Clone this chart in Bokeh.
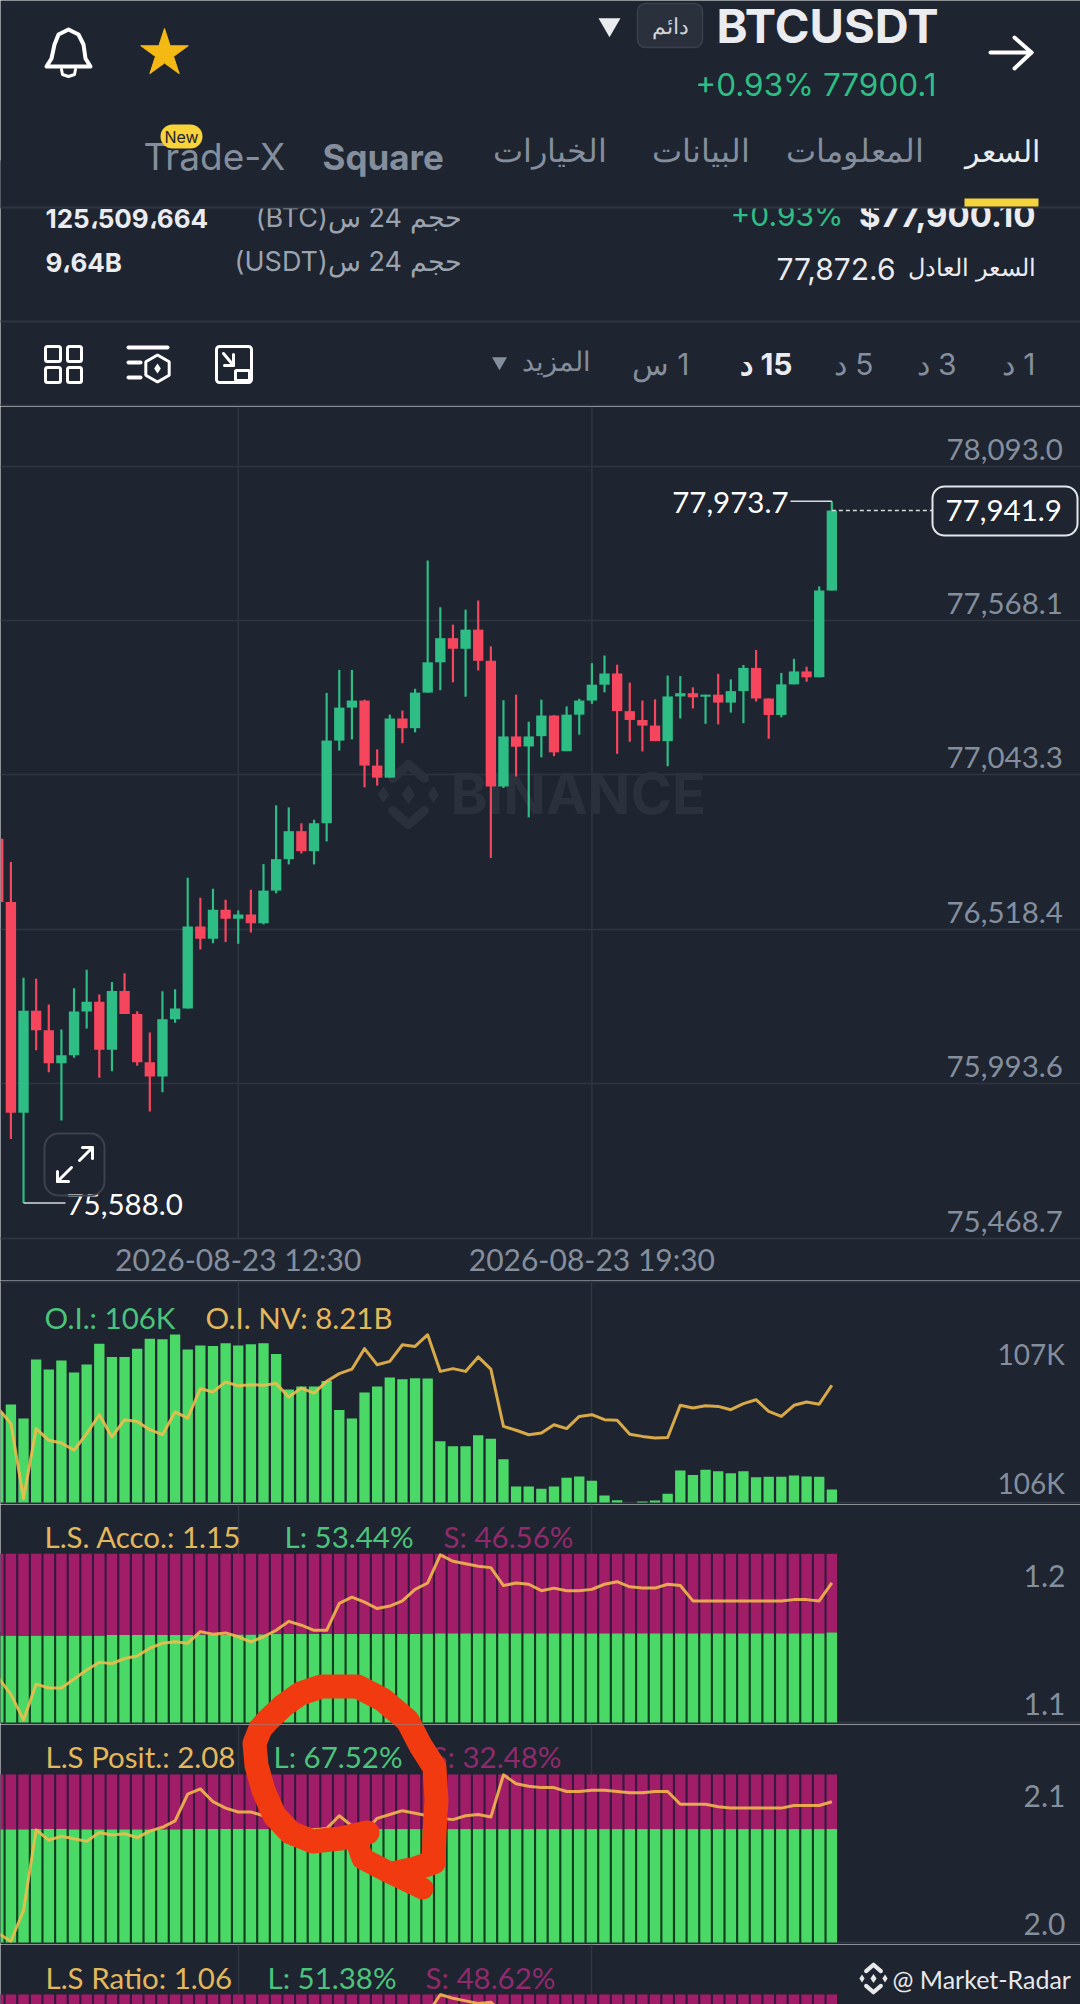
from bokeh.plotting import figure
from bokeh.layouts import column
from bokeh.models import Range1d, LinearAxis, FixedTicker, Grid, NumeralTickFormatter
from bokeh.embed import file_html
from bokeh.resources import INLINE
from bokeh.core.properties import value

# ------------------------------------------------------------------ data
candle_x = list(range(0, 67))
opens = [76826,76611,75895,76242,76175,76063,76090,76239,76272,76109,76309,76231,76067,76018,76213,76249,76528,76486,76585,76554,76569,76539,76650,76757,76852,76784,76879,77160,77272,77296,77075,77034,77235,77202,77323,77426,77508,77472,77537,77431,77004,77174,77140,77175,77245,77124,77248,77296,77350,77388,77260,77230,77211,77158,77310,77321,77309,77316,77289,77328,77407,77303,77247,77351,77395,77375,77670]
highs = [76826,76747,76354,76350,76263,76178,76318,76381,76297,76339,76369,76240,76168,76308,76315,76694,76626,76656,76619,76582,76653,76740,76940,76933,76879,76891,77322,77400,77400,77299,77130,77248,77262,77336,77772,77613,77554,77605,77636,77480,77297,77316,77224,77299,77247,77276,77302,77423,77449,77418,77357,77296,77300,77381,77379,77341,77316,77387,77368,77417,77468,77303,77390,77438,77411,77684,77973.7]
lows = [76611,75806,75588,76107,76033,75869,76082,76181,76014,76036,76231,76055,75899,75965,76201,76249,76450,76471,76475,76469,76508,76535,76641,76739,76776,76739,76817,77126,77164,77001,77007,77034,77151,77188,77323,77331,77358,77309,77398,76761,76999,77038,76899,77103,77107,77124,77180,77285,77324,77115,77156,77123,77158,77073,77235,77269,77217,77215,77255,77219,77293,77166,77239,77351,77360,77375,77670]
closes = [76611,75895,76242,76175,76063,76090,76239,76272,76109,76309,76231,76067,76018,76213,76249,76528,76486,76585,76554,76569,76539,76650,76757,76852,76784,76879,77160,77272,77296,77075,77034,77235,77202,77323,77426,77508,77472,77537,77431,77004,77174,77139,77174,77245,77120,77248,77296,77350,77388,77260,77230,77211,77158,77310,77321,77307,77316,77289,77328,77407,77303,77247,77351,77395,77375,77670,77941.9]
price_ticks = [78093.0, 77568.1, 77043.3, 76518.4, 75993.6, 75468.7]
time_ticks = [19, 47]
time_labels = ["2026-08-23 12:30", "2026-08-23 19:30"]

oi = [106700,106760,106651,107109,107031,107101,107008,107070,107230,107127,107127,107191,107269,107266,107302,107186,107217,107214,107235,107217,107227,107235,107152,106876,106899,106899,106941,106718,106651,106853,106899,106969,106956,106964,106961,106475,106437,106437,106522,106494,106336,106124,106124,106106,106124,106191,106202,106168,106054,106018,106000,106008,106016,106067,106248,106214,106253,106243,106227,106243,106196,106199,106199,106209,106202,106199,106101]
oi_nv = [8.169,8.142,8.007,8.133,8.112,8.107,8.094,8.124,8.158,8.118,8.149,8.146,8.131,8.122,8.163,8.152,8.205,8.199,8.217,8.210,8.212,8.211,8.214,8.190,8.206,8.197,8.218,8.232,8.240,8.277,8.248,8.254,8.284,8.281,8.302,8.236,8.241,8.236,8.262,8.240,8.137,8.130,8.122,8.125,8.140,8.133,8.155,8.158,8.149,8.148,8.123,8.119,8.116,8.117,8.175,8.170,8.174,8.173,8.167,8.178,8.185,8.164,8.155,8.175,8.181,8.177,8.211]
oi_ticks = [106000, 107000]

acct_ratio = [1.135,1.122,1.102,1.130,1.127,1.127,1.134,1.141,1.147,1.146,1.150,1.152,1.158,1.162,1.163,1.162,1.171,1.169,1.170,1.167,1.163,1.167,1.172,1.179,1.176,1.172,1.172,1.193,1.198,1.194,1.189,1.191,1.195,1.204,1.209,1.231,1.226,1.224,1.222,1.221,1.207,1.209,1.208,1.203,1.205,1.203,1.203,1.204,1.208,1.210,1.206,1.205,1.205,1.208,1.207,1.195,1.195,1.195,1.195,1.195,1.195,1.195,1.195,1.196,1.196,1.195,1.209]
acct_long = [51.6,51.6,51.4,51.6,51.6,51.6,51.6,51.6,51.6,51.8,51.8,51.8,51.8,51.8,51.8,51.9,52.1,52.1,52.1,52.1,52.1,52.3,52.4,52.6,52.6,52.6,52.6,52.6,52.6,52.6,52.6,52.6,52.6,52.6,52.7,52.9,52.9,52.9,52.9,52.9,52.9,52.9,52.9,52.9,52.9,52.9,52.9,52.9,52.9,52.9,52.9,52.9,52.9,52.9,52.9,52.9,52.9,52.9,52.9,52.9,52.9,52.9,52.9,52.9,52.9,52.9,53.44]
pos_ratio = [2.007,2.001,2.025,2.088,2.080,2.083,2.081,2.079,2.086,2.084,2.085,2.082,2.087,2.090,2.095,2.116,2.120,2.110,2.105,2.102,2.102,2.099,2.097,2.093,2.089,2.088,2.089,2.099,2.091,2.086,2.097,2.100,2.103,2.101,2.099,2.097,2.096,2.099,2.100,2.098,2.131,2.124,2.122,2.121,2.121,2.118,2.118,2.119,2.119,2.118,2.117,2.117,2.118,2.118,2.108,2.108,2.108,2.106,2.105,2.105,2.105,2.105,2.105,2.107,2.107,2.107,2.110]
pos_long = [67.4,67.4,67.4,67.5,67.5,67.5,67.4,67.4,67.4,67.4,67.4,67.4,67.4,67.4,67.4,67.5,67.5,67.5,67.5,67.5,67.5,67.5,67.5,67.5,67.5,67.5,67.5,67.5,67.5,67.5,67.5,67.5,67.5,67.5,67.5,67.5,67.5,67.5,67.5,67.5,67.5,67.5,67.5,67.5,67.5,67.5,67.5,67.5,67.5,67.5,67.5,67.5,67.5,67.5,67.5,67.5,67.5,67.5,67.5,67.5,67.5,67.5,67.5,67.5,67.5,67.5,67.52]
ratio_long = [51.38] * 67
ratio_x_peak = [34, 35, 36, 37, 38, 39, 40]
ratio_peak = [1.185, 1.200, 1.197, 1.195, 1.193, 1.194, 1.185]

# hand-drawn annotation, in picture pixels
scribble_x = [367,340,312,290,274,263,256,254,260,267,283,300,321,357,382,407,420,434,436,434,433,415,396]
scribble_y = [1832,1838,1841,1832,1815,1790,1765,1743,1728,1720,1705,1693,1686,1686,1699,1720,1745,1767,1800,1833,1862,1868,1872]
tail_x = [355,362,385,410,422]
tail_y = [1838,1858,1870,1882,1888]

# ------------------------------------------------------------------ style
BG = "#1E2430"
GREEN = "#2EBD85"
RED = "#F6465D"
BAR = "#4AD966"
PURPLE = "#A21D68"
GREY = "#848E9C"
GRID = "#2F3641"
RULE = "#2E3541"
GOLD = "#E3B75B"
LGREEN = "#4CC37C"
LPURPLE = "#912A6C"
LINE = "#F3BC4C"
NUM = "Lato"
HEAD = "Inter"
W = 1080
PX = dict(x_range_name="px", y_range_name="px")

def ix(px):
    return (px - 10.4) / 12.63 + 1

def rng(ytop, ybot, yref, vref, ppu, shift=0):
    return Range1d((vref + (yref - (ybot + shift)) / ppu), (vref + (yref - (ytop + shift)) / ppu))

def panel(ytop, ybot, yr=None):
    yr = yr or Range1d(ybot, ytop)
    p = figure(width=W, height=ybot - ytop, x_range=Range1d(ix(0), ix(W)), y_range=yr,
               x_axis_type=None, y_axis_type=None, toolbar_location=None, output_backend="svg",
               background_fill_color=BG, border_fill_color=BG, outline_line_color=None, min_border=0)
    p.extra_x_ranges = {"px": Range1d(0, W)}
    p.extra_y_ranges = {"px": Range1d(ybot, ytop)}
    return p

def t(p, x, y, s, size, color, align="left", font=HEAD, style="normal"):
    p.text(x=[x], y=[y], text=[s], text_font=value(font), text_font_size=f"{size}px", text_color=color,
           text_align=align, text_baseline="middle", text_font_style=style, **PX)

def seg(p, xs, ys, color="#FFFFFF", w=3, **kw):
    p.line(xs, ys, line_color=color, line_width=w, line_cap="round", line_join="round", **PX, **kw)

def box(p, l, r, top, bottom, fill=None, line=None, w=2, radius=0):
    p.quad(left=[l], right=[r], top=[top], bottom=[bottom], fill_color=fill, line_color=line, line_width=w,
           border_radius=radius, **PX)

def logo(p, cx, cy, s, color):
    p.scatter(x=[cx, cx - 25 * s, cx + 25 * s], y=[cy, cy, cy], marker="diamond", size=[20 * s, 17 * s, 17 * s],
              fill_color=color, line_color=None, **PX)
    seg(p, [cx - 16 * s, cx, cx + 16 * s], [cy - 16 * s, cy - 30 * s, cy - 16 * s], color, 9 * s)
    seg(p, [cx - 16 * s, cx, cx + 16 * s], [cy + 16 * s, cy + 30 * s, cy + 16 * s], color, 9 * s)

def value_axis(p, name, yr, left_px, ticks, size=29.5, overrides=None, fmt="0,0.0"):
    p.extra_y_ranges[name] = yr
    ax = LinearAxis(y_range_name=name, fixed_location=ix(left_px), ticker=FixedTicker(ticks=ticks),
                    major_tick_line_color=None, minor_tick_line_color=None, axis_line_color=None,
                    major_label_standoff=0, major_label_text_color=GREY,
                    major_label_text_font=NUM, major_label_text_font_size=f"{size}px")
    if overrides:
        ax.major_label_overrides = overrides
    else:
        ax.formatter = NumeralTickFormatter(format=fmt)
    p.add_layout(ax, "right")

def rtl(s):
    return "\u202b" + s + "\u202c"

# ------------------------------------------------------------------ header
h = panel(0, 406)
# partially hidden row below the tabs
t(h, 1035, 214, "$77,900.10", 33, "#EAECEF", "right", style="bold")
t(h, 843, 214, "+0.93%", 30, GREEN, "right")
t(h, 45, 218, "125،509،664", 26, "#EAECEF", style="bold")
t(h, 461, 217, rtl("حجم 24 س(BTC)"), 27, "#9BA3AF", "right")
box(h, -10, 1090, 207, 160, BG, None)
seg(h, [0, 1080], [207, 207], RULE, 2)
box(h, 964, 1038, 206, 198, "#F5D33C", None)
# title bar
seg(h, [46, 51, 54, 58, 68, 78, 83, 85, 90, 46], [66, 58, 44, 34, 29, 34, 44, 58, 66, 66], "#FFFFFF", 4)
seg(h, [61, 62, 68, 74, 75], [69, 74, 76, 74, 69], "#FFFFFF", 3)
h.scatter(x=[164], y=[53], marker="star", size=50, fill_color="#F5B914", line_color="#F5B914", **PX)
h.scatter(x=[609], y=[24], marker="inverted_triangle", size=22, fill_color="#EAECEF", line_color=None, **PX)
box(h, 637, 702, 47, 3, "#2A313D", "#3A414D", 1.5, 8)
t(h, 670, 25, "دائم", 22, "#D0D4DA", "center")
t(h, 938, 25, "BTCUSDT", 47, "#EAECEF", "right", style="bold")
seg(h, [990, 1031], [52, 52], "#FFFFFF", 4)
seg(h, [1014, 1031, 1014], [37, 52, 68], "#FFFFFF", 4)
t(h, 936, 84, "+0.93% 77900.1", 31.5, GREEN, "right")
# tabs
t(h, 1039, 150, "السعر", 30, "#EAECEF", "right")
t(h, 923, 150, "المعلومات", 32, GREY, "right")
t(h, 749, 150, "البيانات", 32, GREY, "right")
t(h, 606, 150, "الخيارات", 32, GREY, "right")
t(h, 322, 156, "Square", 35, GREY, style="bold")
t(h, 143, 156, "Trade-X", 37, GREY)
box(h, 160, 202, 148, 124, "#F8D33A", None, radius=12)
t(h, 181, 136, "New", 16, "#1E2430", "center")
# 24h stats
t(h, 1035, 267, "السعر العادل", 24, "#EAECEF", "right")
t(h, 895, 268, "77,872.6", 30, "#EAECEF", "right")
t(h, 45, 262, "9،64B", 26, "#EAECEF", style="bold")
t(h, 461, 261, rtl("حجم 24 س(USDT)"), 27, "#9BA3AF", "right")
seg(h, [0, 1080], [321, 321], RULE, 2)
seg(h, [0, 1080], [405, 405], RULE, 2)
# interval row
t(h, 1035, 363, rtl("1 د"), 30, GREY, "right")
t(h, 956, 363, rtl("3 د"), 30, GREY, "right")
t(h, 873, 363, rtl("5 د"), 30, GREY, "right")
t(h, 792, 363, rtl("15 د"), 30, "#EAECEF", "right", style="bold")
t(h, 689, 363, rtl("1 س"), 30, GREY, "right")
t(h, 590, 361, "المزيد", 27, GREY, "right")
h.scatter(x=[499], y=[361], marker="inverted_triangle", size=15, fill_color=GREY, line_color=None, **PX)
# tool icons
for l, r in [(45, 60), (67, 81)]:
    for a, b in [(346, 361), (367, 382)]:
        box(h, l, r, b, a, None, "#FFFFFF", 3, 2)
seg(h, [128, 167], [347, 347], "#FFFFFF", 4)
seg(h, [128, 140], [362, 362], "#FFFFFF", 4)
seg(h, [128, 140], [377, 377], "#FFFFFF", 4)
h.scatter(x=[157], y=[368], marker="hex", angle=1.5708, size=27, fill_color=None, line_color="#FFFFFF", line_width=3, **PX)
h.scatter(x=[157], y=[368], marker="diamond", size=10, fill_color="#FFFFFF", line_color=None, **PX)
box(h, 216, 251, 382, 346, None, "#FFFFFF", 3, 3)
box(h, 235, 249, 380, 370, BG, "#FFFFFF", 3, 1)
seg(h, [223, 233], [353, 365], "#FFFFFF", 3)
seg(h, [233, 233, 224], [354, 365, 365], "#FFFFFF", 3)

# ------------------------------------------------------------------ price chart
PPU = 154.4 / 524.8
pr = panel(406, 1280, rng(406, 1280, 620, 77568.1, PPU))
pr.add_layout(Grid(dimension=1, ticker=FixedTicker(ticks=price_ticks), grid_line_color=GRID, grid_line_width=1.5))
pr.segment(x0=time_ticks, x1=time_ticks, y0=[price_ticks[-1]] * 2, y1=[78295] * 2, line_color=GRID, line_width=1.5)
# watermark
t(pr, 450, 793, "BINANCE", 56, "#2A313D", style="bold")
logo(pr, 408, 794, 1.0, "#2A313D")
# candles
up = [i for i in range(67) if closes[i] >= opens[i]]
dn = [i for i in range(67) if closes[i] < opens[i]]
for idx, col in ((up, GREEN), (dn, RED)):
    xs = [candle_x[i] for i in idx]
    pr.segment(x0=xs, x1=xs, y0=[lows[i] for i in idx], y1=[highs[i] for i in idx], line_color=col, line_width=2.2)
    pr.vbar(x=xs, width=0.82, top=[max(opens[i], closes[i]) for i in idx], bottom=[min(opens[i], closes[i]) for i in idx],
            fill_color=col, line_color=None)
ta = LinearAxis(fixed_location=price_ticks[-1], ticker=FixedTicker(ticks=time_ticks),
                major_label_overrides=dict(zip(time_ticks, time_labels)), major_tick_line_color=None,
                minor_tick_line_color=None, axis_line_color=GRID, axis_line_width=1.5, major_label_standoff=-3,
                major_label_text_color=GREY, major_label_text_font=NUM, major_label_text_font_size="30px")
pr.add_layout(ta, "below")
value_axis(pr, "lab", rng(406, 1280, 620, 77568.1, PPU, 17), 940, price_ticks)
# extreme and last-price markers
pr.segment(x0=[candle_x[-1]], x1=[ix(790)], y0=[highs[-1]], y1=[highs[-1]], line_color="#D8DBDF", line_width=1.5)
pr.segment(x0=[candle_x[2]], x1=[ix(65)], y0=[lows[2]], y1=[lows[2]], line_color="#D8DBDF", line_width=1.5)
pr.segment(x0=[candle_x[-1]], x1=[ix(932)], y0=[closes[-1]], y1=[closes[-1]], line_color="#D8DBDF", line_width=1.5, line_dash="4 3")
t(pr, 788, 502, "77,973.7", 29.5, "#FFFFFF", "right", NUM)
t(pr, 66, 1204, "75,588.0", 29.5, "#FFFFFF", "left", NUM)
box(pr, 932, 1077, 535, 486, BG, "#E4E6E9", 2, 12)
t(pr, 945, 510, "77,941.9", 29.5, "#FFFFFF", "left", NUM)
# expand button
box(pr, 44, 104, 1195, 1133, None, "#3C434F", 2, 14)
seg(pr, [79, 92], [1160, 1147])
seg(pr, [82, 92, 92], [1147, 1147, 1158])
seg(pr, [57, 71], [1181, 1167])
seg(pr, [57, 57, 68], [1171, 1181, 1181])

# ------------------------------------------------------------------ open interest
oi_p = panel(1280, 1504, rng(1280, 1504, 1502, 106000, 0.129))
oi_p.add_layout(Grid(dimension=0, ticker=FixedTicker(ticks=time_ticks), grid_line_color=GRID, grid_line_width=1.5))
oi_p.add_layout(Grid(dimension=1, ticker=FixedTicker(ticks=[106000]), grid_line_color=GRID, grid_line_width=2))
seg(oi_p, [0, 1080], [1281, 1281], RULE, 2)
oi_p.vbar(x=candle_x, width=0.82, top=oi, bottom=106000, fill_color=BAR, line_color=None)
oi_p.extra_y_ranges["nv"] = rng(1280, 1504, 1502, 8.0, 1 / 0.0018)
oi_p.line(candle_x, oi_nv, y_range_name="nv", line_color=LINE, line_alpha=0.88, line_width=3, line_join="round")
value_axis(oi_p, "lab", rng(1280, 1504, 1502, 106000, 0.129, 20), 991, oi_ticks, 28, overrides={106000: "106K", 107000: "107K"})
t(oi_p, 44, 1317, "O.I.: 106K", 29.5, LGREEN, font=NUM)
t(oi_p, 205, 1317, "O.I. NV: 8.21B", 29.5, GOLD, font=NUM)

# ------------------------------------------------------------------ long / short panels
def ls_panel(ytop, ybot, zero_y, top_y):
    ppu = (zero_y - top_y) / 100
    return panel(ytop, ybot, rng(ytop, ybot, zero_y, 0, ppu))

def ls_bars(p, longs):
    p.add_layout(Grid(dimension=0, ticker=FixedTicker(ticks=time_ticks), grid_line_color=GRID, grid_line_width=1.5))
    p.quad(left=[-1], right=[66.41], bottom=[0], top=[max(longs)], fill_color="#0D3F1E", line_color=None)
    p.quad(left=[-1], right=[66.41], bottom=[min(longs)], top=[100], fill_color="#37193F", line_color=None)
    p.vbar(x=candle_x, width=0.83, bottom=0, top=longs, fill_color=BAR, line_color=None)
    p.vbar(x=candle_x, width=0.83, bottom=longs, top=100, fill_color=PURPLE, line_color=None)

ac = ls_panel(1504, 1724, 1722, 1553.3)
ls_bars(ac, acct_long)
ac.add_layout(Grid(dimension=1, ticker=FixedTicker(ticks=[0]), grid_line_color=GRID, grid_line_width=2))
ac.extra_y_ranges["ratio"] = rng(1504, 1724, 1722, 1.1, 1280)
ac.line(candle_x, acct_ratio, y_range_name="ratio", line_color=LINE, line_alpha=0.88, line_width=3, line_join="round")
value_axis(ac, "lab", rng(1504, 1724, 1722, 1.1, 1280, 19), 1017, [1.1, 1.2], 30, fmt="0.0")
t(ac, 44, 1536, "L.S. Acco.: 1.15", 29.5, GOLD, font=NUM)
t(ac, 284, 1536, "L: 53.44%", 29.5, LGREEN, font=NUM)
t(ac, 443, 1536, "S: 46.56%", 29.5, LPURPLE, font=NUM)

po = ls_panel(1724, 1944, 1942, 1774)
ls_bars(po, pos_long)
po.add_layout(Grid(dimension=1, ticker=FixedTicker(ticks=[0]), grid_line_color=GRID, grid_line_width=2))
po.extra_y_ranges["ratio"] = rng(1724, 1944, 1942, 2.0, 1280)
po.line(candle_x, pos_ratio, y_range_name="ratio", line_color=LINE, line_alpha=0.88, line_width=3, line_join="round")
value_axis(po, "lab", rng(1724, 1944, 1942, 2.0, 1280, 19), 1017, [2.0, 2.1], 30, fmt="0.0")
t(po, 45, 1756, "L.S Posit.: 2.08", 29.5, GOLD, font=NUM)
t(po, 273, 1756, "L: 67.52%", 29.5, LGREEN, font=NUM)
t(po, 431, 1756, "S: 32.48%", 29.5, LPURPLE, font=NUM)

ra = panel(1944, 2004, rng(1944, 2004, 1994, 100, 1.687))
ra.add_layout(Grid(dimension=0, ticker=FixedTicker(ticks=time_ticks), grid_line_color=GRID, grid_line_width=1.5))
ra.quad(left=[-1], right=[66.41], bottom=[0], top=[100], fill_color="#37193F", line_color=None)
ra.vbar(x=candle_x, width=0.83, bottom=ratio_long, top=100, fill_color=PURPLE, line_color=None)
ra.extra_y_ranges["ratio"] = rng(1944, 2004, 1994, 1.2, 1280)
ra.line(ratio_x_peak, ratio_peak, y_range_name="ratio", line_color=LINE, line_alpha=0.88, line_width=3)
t(ra, 45, 1977, "L.S Ratio: 1.06", 29.5, GOLD, font=NUM)
t(ra, 267, 1977, "L: 51.38%", 29.5, LGREEN, font=NUM)
t(ra, 425, 1977, "S: 48.62%", 29.5, LPURPLE, font=NUM)
logo(ra, 873, 1978, 0.46, "#E6E8EA")
t(ra, 892, 1978, "@ Market-Radar", 25, "#E6E8EA", font=NUM)

# red hand-drawn loop across the panels
for fig in (ac, po):
    fig.line(scribble_x, scribble_y, line_color="#F23A10", line_width=24, line_cap="round", line_join="round", **PX)
    fig.line(tail_x, tail_y, line_color="#F23A10", line_width=22, line_cap="round", line_join="round", **PX)

page = column(h, pr, oi_p, ac, po, ra, spacing=0)
open("out.html", "w", encoding="utf-8").write(file_html(page, INLINE))
